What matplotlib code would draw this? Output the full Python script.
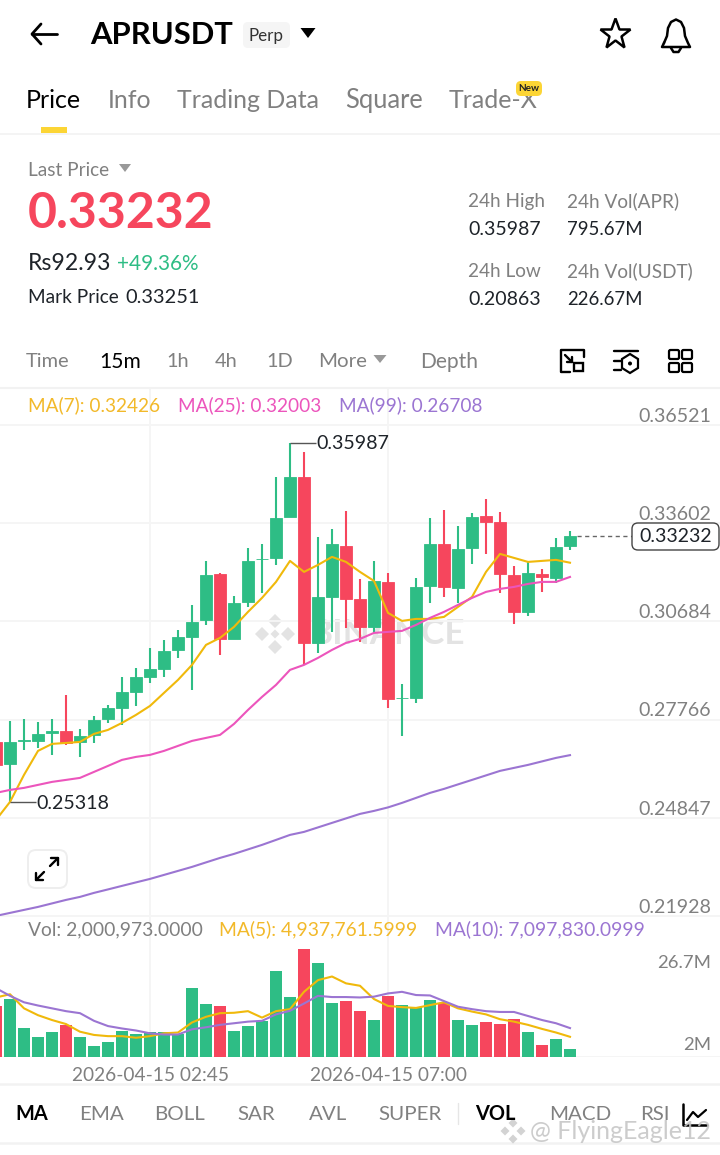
import matplotlib
matplotlib.use('Agg')
import matplotlib.pyplot as plt
from matplotlib.patches import FancyBboxPatch, Polygon, Rectangle, Circle

plt.rcParams['font.family'] = ['Lato', 'DejaVu Sans']

# ---------------- DATA ----------------
candle_idx = list(range(-1, 41))
opens = [.27101, .26448, .27131, .27131, .27369, .27428, .27101, .27309, .27785, .28112, .28588,
         .29033, .29271, .29835, .30221, .30727, .32094, .30162, .31262, .32525, .32569, .33787,
         .34976, .30043, .31410, .32926, .31351, .30519, .31856, .28394, .28409, .31737, .32985,
         .31677, .32866, .33817, .33639, .32064, .30965, .32094, .31975, .32926]
closes = [.26418, .27101, .27161, .27339, .27428, .27071, .27280, .27755, .28112, .28588, .29033,
          .29271, .29805, .30221, .30668, .32064, .30162, .31232, .32480, .32539, .33758, .34976,
          .30043, .31410, .32985, .31351, .30519, .31885, .28379, .28409, .31707, .32985, .31707,
          .32836, .33787, .33639, .32094, .30965, .32123, .32004, .32896, .33232]
highs = [.27131, .27725, .27785, .27696, .27785, .28499, .27488, .27874, .28201, .29033, .29300,
         .29895, .30132, .30430, .31173, .32480, .32123, .31440, .32866, .32985, .34976, .35987,
         .35719, .33193, .33431, .33965, .31945, .32480, .32123, .28825, .31975, .33758, .33995,
         .33520, .33906, .34322, .33936, .32331, .32450, .32242, .33163, .33371]
lows = [.26418, .25318, .26864, .26923, .26715, .27012, .26656, .27071, .27666, .27606, .28171,
        .28855, .29033, .29598, .28647, .30578, .29687, .30162, .31113, .31529, .32361, .33787,
        .29390, .29746, .30370, .30489, .30073, .30340, .28112, .27280, .28260, .31232, .31410,
        .31232, .32391, .32688, .31529, .30608, .30846, .31559, .31826, .32807]

ma7 = [.24784, .25318, .26121, .26834, .27042, .27071, .27101, .27339, .27458, .27666, .27904,
       .28171, .28558, .28944, .29390, .29984, .30192, .30519, .30965, .31380, .31856, .32480,
       .32153, .32361, .32599, .32450, .32153, .31885, .30935, .30697, .30756, .30756, .30816,
       .31113, .31410, .32153, .32688, .32569, .32450, .32480, .32510, .32426]
ma25 = [.25586, .25675, .25735, .25824, .25913, .25972, .26032, .26210, .26388, .26567, .26656,
        .26715, .26834, .26983, .27131, .27220, .27309, .27636, .28052, .28438, .28795, .29241,
        .29390, .29598, .29835, .30043, .30162, .30340, .30370, .30400, .30578, .30786, .30965,
        .31173, .31380, .31559, .31648, .31707, .31796, .31856, .31856, .32003]
ma99 = [.21931, .22020, .22109, .22198, .22302, .22406, .22496, .22615, .22718, .22823, .22927,
        .23030, .23149, .23268, .23387, .23521, .23654, .23773, .23907, .24041, .24189, .24338,
        .24427, .24561, .24695, .24828, .24962, .25051, .25155, .25289, .25437, .25586, .25705,
        .25839, .25972, .26106, .26240, .26329, .26418, .26522, .26626, .26708]

volumes = [12.6, 14.2, 7.0, 5.0, 6.2, 7.9, 4.8, 2.7, 3.7, 6.5, 5.6, 6.2, 6.1, 5.6, 17.0, 13.0, 12.5,
           6.4, 7.7, 8.9, 21.3, 14.7, 26.7, 23.2, 13.3, 13.7, 11.4, 9.1, 15.1, 12.8, 12.4, 14.1, 13.3,
           9.1, 7.9, 8.5, 8.1, 9.4, 6.1, 2.9, 4.4, 2.0]
vol_ma5 = [14.7, 15.5, 12.0, 10.3, 9.1, 8.1, 6.2, 5.4, 5.1, 5.1, 4.7, 5.1, 5.8, 6.0, 8.5, 9.9, 10.8,
           10.9, 11.3, 9.7, 11.3, 11.8, 16.1, 19.0, 19.9, 18.2, 17.6, 14.3, 12.6, 12.3, 12.1, 12.8,
           13.5, 12.0, 11.2, 10.5, 9.3, 8.7, 7.9, 6.9, 6.0, 4.94]
vol_ma10 = [17.0, 15.1, 13.5, 12.7, 12.0, 11.3, 10.8, 8.9, 7.6, 7.0, 6.5, 5.8, 5.5, 5.5, 6.8, 7.3, 7.9,
            8.3, 8.7, 8.9, 10.5, 11.4, 13.2, 15.1, 14.8, 14.8, 14.7, 14.9, 15.7, 16.1, 15.3, 15.2,
            13.8, 12.4, 11.8, 11.3, 11.1, 11.1, 10.1, 9.1, 8.3, 7.10]

price_ticks = [0.36521, 0.33602, 0.30684, 0.27766, 0.24847, 0.21928]
date_ticks = [10, 27]
date_labels = ['2026-04-15 02:45', '2026-04-15 07:00']
last_price = 0.33232
high_mark = (20, 0.35987)
low_mark = (0, 0.25318)

# ---------------- COLORS ----------------
GREEN = '#2EBD85'
RED = '#F6465D'
YELLOW = '#F0B90B'
PINK = '#EC55BC'
PURPLE = '#9B75D2'
GRAY = '#808080'
GRID = '#F5F5F5'

W, H = 720, 1155
fig = plt.figure(figsize=(7.2, 11.55), dpi=100, facecolor='white')


def axes_px(top, bottom):
    return fig.add_axes([0, 1 - bottom / H, 1, (bottom - top) / H], facecolor='none')


def pixel_axes():
    a = fig.add_axes([0, 0, 1, 1], facecolor='none')
    a.set_xlim(0, W)
    a.set_ylim(H, 0)
    a.axis('off')
    return a


# watermark goes under the candles
ui_back = pixel_axes()

# ---------------- PRICE PANE ----------------
PX_PER_PRICE = 1 / 0.00029715
ax = axes_px(388, 916)
ax.set_xlim(-10 / 14, 710 / 14)
ax.set_ylim(0.21928, 0.21928 + (916 - 388) / PX_PER_PRICE)
ax.set_yticks(price_ticks)
ax.set_yticklabels([])
ax.set_xticks(date_ticks)
ax.set_xticklabels([])
ax.tick_params(length=0)
ax.grid(True, color=GRID, lw=1.4, zorder=0)
ax.set_axisbelow(True)
for s in ax.spines.values():
    s.set_visible(False)

colors = [GREEN if c >= o else RED for o, c in zip(opens, closes)]
ax.vlines(candle_idx, lows, highs, colors=colors, lw=1.5, zorder=3)
ax.bar(candle_idx, [c - o for o, c in zip(opens, closes)], bottom=opens, width=0.84,
       color=colors, edgecolor=colors, lw=0.6, zorder=3)
ax.plot(candle_idx, ma7, color=YELLOW, lw=1.5, zorder=4)
ax.plot(candle_idx, ma25, color=PINK, lw=1.5, zorder=4)
ax.plot(candle_idx, ma99, color=PURPLE, lw=1.5, zorder=4)

for p in price_ticks:
    ax.annotate(f'{p:.5f}', xy=(1, p), xycoords=('axes fraction', 'data'), xytext=(-6.5, 6.3),
                textcoords='offset points', ha='right', va='center', fontsize=14.1, color=GRAY)

for (i, p) in (high_mark, low_mark):
    ax.hlines(p, i, i + 26 / 14, color='#555555', lw=1, zorder=5)
    ax.annotate(f'{p:.5f}', xy=(i + 26 / 14, p), xytext=(0, -0.8), textcoords='offset points',
                va='center', fontsize=14.1, color='#1E2329', zorder=6)

ax.plot([40.5, 44.4], [last_price, last_price], color='#666666', lw=1, ls=(0, (3, 2.5)), zorder=4)

# ---------------- VOLUME PANE ----------------
PX_PER_M = 4.03
ax_vol = axes_px(916, 1056.7)
ax_vol.set_xlim(-10 / 14, 710 / 14)
ax_vol.set_ylim(0, (1056.7 - 916) / PX_PER_M)
ax_vol.set_yticks([0, (1056.7 - 916) / PX_PER_M])
ax_vol.set_yticklabels([])
ax_vol.set_xticks(date_ticks)
ax_vol.set_xticklabels(date_labels, fontsize=13.8, color=GRAY)
ax_vol.tick_params(length=0, pad=7.5)
ax_vol.grid(True, color=GRID, lw=1.4, zorder=0)
ax_vol.set_axisbelow(True)
for s in ax_vol.spines.values():
    s.set_visible(False)
ax_vol.bar(candle_idx, volumes, width=0.86, color=colors, zorder=3)
ax_vol.plot(candle_idx, vol_ma5, color=YELLOW, lw=1.5, zorder=4)
ax_vol.plot(candle_idx, vol_ma10, color=PURPLE, lw=1.5, zorder=4)

# ---------------- UI OVERLAY ----------------
ui = pixel_axes()


def label(x, y, s, px=18, color='#1E2329', weight='normal', ha='left', target=None, **kw):
    (target or ui).text(x, y + 1.5, s, fontsize=px * 0.72, color=color, fontweight=weight, ha=ha, va='center', **kw)


def rbox(x0, y0, x1, y1, r, fc, ec='none', lw=1, z=2):
    ui.add_patch(FancyBboxPatch((x0 + r, y0 + r), x1 - x0 - 2 * r, y1 - y0 - 2 * r,
                                boxstyle=f'round,pad={r},rounding_size={r}', fc=fc, ec=ec, lw=lw, zorder=z))


def tri(cx, cy, w, h, color):
    ui.add_patch(Polygon([(cx - w / 2, cy - h / 2), (cx + w / 2, cy - h / 2), (cx, cy + h / 2)], color=color, lw=0))


def line(xs, ys, color='black', lw=1.7, z=5):
    ui.plot(xs, ys, color=color, lw=lw, solid_capstyle='round', solid_joinstyle='round', zorder=z)


def diamond(a, cx, cy, r, color, alpha=1):
    a.add_patch(Polygon([(cx, cy - r), (cx + r, cy), (cx, cy + r), (cx - r, cy)], fc=color, lw=0, alpha=alpha, zorder=1))


# header
line([32, 57], [34, 34], lw=2)
line([41, 32, 41], [24, 34, 44], lw=2)
label(90, 33, 'APRUSDT', px=31, color='black', weight='bold')
rbox(243, 22, 290, 48, 5, '#F5F5F5')
label(266.5, 35, 'Perp', px=17, color='#333333', ha='center', zorder=3)
tri(308, 33, 15, 10, 'black')
ui.plot([615], [34], marker='*', ms=23, mfc='none', mec='black', mew=1.8)
bell_x = [664, 667, 668, 671, 676, 681, 684, 685, 688, 690, 662, 664]
bell_y = [43, 36, 28, 22, 19.5, 22, 28, 36, 43, 47, 47, 43]
line(bell_x, bell_y, lw=1.8)
line([671, 673.5, 678.5, 681], [48, 52, 52, 48], lw=1.8)

# tabs
label(26, 99, 'Price', px=25, color='black')
label(108, 99, 'Info', px=25, color=GRAY)
label(177, 99, 'Trading Data', px=25, color=GRAY)
label(345, 99, 'Square', px=25.5, color=GRAY)
label(449, 99, 'Trade-X', px=25, color=GRAY)
rbox(516, 81, 542, 96, 5, '#FCD535', z=6)
label(529, 87, 'New', px=10, color='#222222', weight='bold', ha='center', zorder=7)
ui.add_patch(Rectangle((41, 127), 26, 6, color='#FCD535', lw=0))
line([0, 720], [133.5, 133.5], color='#F2F2F2', lw=1.2, z=1)

# price block
label(28, 168.5, 'Last Price', px=19, color=GRAY)
tri(125, 168, 12, 8, '#999999')
label(28, 212.5, '0.33232', px=50, color=RED, weight='bold')
label(28, 262, 'Rs92.93', px=23, color='#1E2329')
label(117, 263, '+49.36%', px=20.8, color=GREEN)
label(28, 296, 'Mark Price', px=19, color='#1E2329')
label(125, 296, '0.33251', px=20, color='#1E2329')

label(468, 200, '24h High', px=19, color=GRAY)
label(567, 200, '24h Vol(APR)', px=19, color=GRAY)
label(468, 228, '0.35987', px=19.5)
label(567, 228, '795.67M', px=18.7)
label(468, 270, '24h Low', px=19, color=GRAY)
label(567, 270, '24h Vol(USDT)', px=19, color=GRAY)
label(468, 298, '0.20863', px=19.5)
label(567, 298, '226.67M', px=18.7)

# interval row
label(26, 360, 'Time', px=20, color=GRAY)
label(99, 360, '15m', px=21, color='black')
label(166, 360, '1h', px=20, color=GRAY)
label(215, 360, '4h', px=20, color=GRAY)
label(266, 360, '1D', px=20, color=GRAY)
label(318, 360, 'More', px=20.5, color=GRAY)
tri(380, 359, 13, 8, '#999999')
label(420, 360, 'Depth', px=21, color=GRAY)

line([584, 584, 561, 561, 570], [357, 350, 350, 372, 372])
line([565, 572], [355, 362])
line([567, 572, 572], [362, 362, 357])
ui.add_patch(Rectangle((574, 363), 9, 8, fc='none', ec='black', lw=1.7))
line([614, 638], [351, 351])
line([614, 621], [361, 361])
line([614, 621], [370, 370])
ui.add_patch(Polygon([(630, 354), (638, 359), (638, 368), (630, 373), (622, 368), (622, 359)], fc='none', ec='black', lw=1.6))
ui.add_patch(Circle((630, 363.5), 2, color='black', lw=0))
for bx, by in ((669, 350), (682, 350), (669, 363), (682, 363)):
    ui.add_patch(FancyBboxPatch((bx + 1, by + 1), 8, 7, boxstyle='round,pad=1,rounding_size=1.5', fc='none', ec='black', lw=1.6))
line([0, 720], [388, 388], color='#F2F2F2', lw=1.5, z=1)

# legends
label(28, 404, 'MA(7): 0.32426', px=19, color='#F2B92A')
label(178, 404, 'MA(25): 0.32003', px=19, color=PINK)
label(339, 404, 'MA(99): 0.26708', px=19, color=PURPLE)
label(28, 928, 'Vol: 2,000,973.0000', px=19.3, color=GRAY)
label(219, 928, 'MA(5): 4,937,761.5999', px=19.3, color='#F2B92A')
label(435, 928, 'MA(10): 7,097,830.0999', px=19.3, color=PURPLE)
label(711, 962, '26.7M', px=18.5, color=GRAY, ha='right')
label(711, 1044, '2M', px=18.5, color=GRAY, ha='right')

# last price tag
rbox(632, 523, 719, 550, 6, 'white', ec='#444444', lw=1, z=6)
label(675.5, 535, '0.33232', px=19.5, ha='center', zorder=7)

# watermark
for dx, dy in ((0, -13), (13, 0), (0, 13), (-13, 0)):
    diamond(ui_back, 275 + dx, 634 + dy, 7, '#E3E3E3')
diamond(ui_back, 275, 634, 4.5, '#E3E3E3')
label(309, 633, 'BINANCE', px=35, color='#E3E3E3', weight='bold', target=ui_back, zorder=1)

# expand button
rbox(28, 850, 67, 888, 8, 'white', ec='#EEEEEE', lw=1.4)
line([36, 44], [880, 872], lw=1.7)
line([36, 36, 43], [873, 880, 880], lw=1.7)
line([50, 58], [866, 858], lw=1.7)
line([51, 58, 58], [858, 858, 865], lw=1.7)

# indicator row
line([0, 720], [1084, 1084], color='#F2F2F2', lw=1.8, z=1)
line([0, 720], [1143, 1143], color='#F2F2F2', lw=1.8, z=1)
label(15, 1113, 'MA', px=20, color='black', weight='bold')
label(79, 1113, 'EMA', px=20.5, color=GRAY)
label(154, 1113, 'BOLL', px=20.5, color=GRAY)
label(237, 1113, 'SAR', px=20.5, color=GRAY)
label(309, 1113, 'AVL', px=20.5, color=GRAY)
label(378, 1113, 'SUPER', px=20.5, color=GRAY)
line([458, 458], [1103, 1124], color='#E6E6E6', lw=1)
label(475, 1113, 'VOL', px=20, color='black', weight='bold')
label(549, 1113, 'MACD', px=20.5, color=GRAY)
label(640, 1113, 'RSI', px=20.5, color=GRAY)
ui.add_patch(Rectangle((670, 1098), 50, 32, color='white', lw=0, zorder=4))
line([683, 683, 707], [1104, 1125, 1125], lw=1.8)
line([687, 693, 698, 706], [1120, 1112, 1117, 1110], lw=1.6)
tri(690, 1105, 8, 5, 'black')

# site watermark
for dx, dy in ((0, -8), (8, 0), (0, 8), (-8, 0)):
    diamond(ui, 513 + dx, 1131 + dy, 4.5, '#C8C8C8', alpha=0.8)
label(530, 1130, '@ FlyingEagle12', px=25, color='#C4C4C4', alpha=0.85, zorder=8)

fig.savefig('out.png', dpi=100, facecolor='white')
